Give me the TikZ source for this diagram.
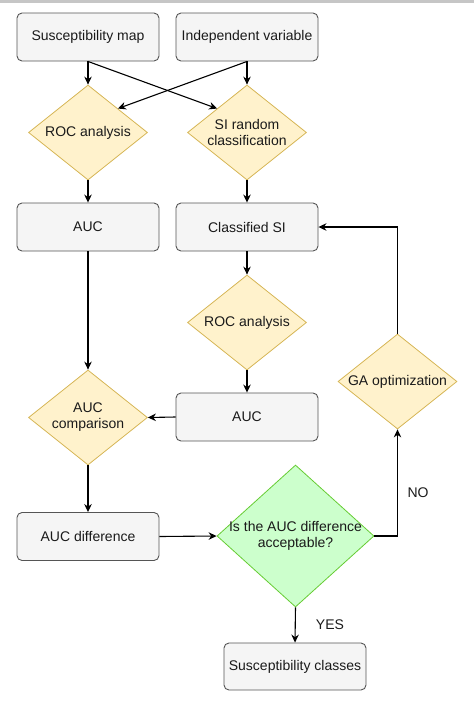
\documentclass[tikz,border=0pt]{standalone}
\usepackage{fontspec}
\setmainfont{Liberation Sans}
\usetikzlibrary{shapes.geometric,arrows.meta,calc}
\definecolor{boxfill}{HTML}{F5F5F5}
\definecolor{boxdraw}{HTML}{555555}
\definecolor{yfill}{HTML}{FFF2CC}
\definecolor{ydraw}{HTML}{D6B656}
\definecolor{gfill}{HTML}{CCFFCC}
\definecolor{gdraw}{HTML}{66CC33}
\definecolor{txt}{HTML}{1A1A1A}
\begin{document}
\begin{tikzpicture}[x=1pt,y=-1pt,
  every node/.style={font=\fontsize{14}{16}\selectfont, text=txt},
  stepbox/.style={draw=boxdraw, fill=boxfill, rounded corners=5pt, line width=0.9pt,
    minimum width=142pt, minimum height=48pt, inner sep=0pt},
  ydia/.style={diamond, draw=ydraw, fill=yfill, line width=0.8pt, inner sep=0pt,
    minimum width=119pt, minimum height=95pt},
  gdia/.style={diamond, draw=gdraw, fill=gfill, line width=0.8pt, inner sep=0pt,
    minimum width=157pt, minimum height=142pt},
  arr/.style={-{Stealth[length=8pt,width=7.5pt]}, line width=1.1pt, black},
  lbl/.style={font=\fontsize{14}{16}\selectfont}]
\useasboundingbox (0,0) rectangle (474,710);
\fill[gray!45] (0,0) rectangle (474,2.5);

\node[stepbox] (sm) at (88,37) {Susceptibility map};
\node[stepbox] (iv) at (247,37) {Independent variable};
\node[ydia, label={[lbl]center:ROC analysis}] (roc1) at (88,132.5) {};
\node[ydia, label={[lbl,align=center]center:SI random\\classification}] (sirc) at (247,132.5) {};
\node[stepbox] (auc1) at (88,227) {AUC};
\node[stepbox] (csi) at (247,227) {Classified SI};
\node[ydia, label={[lbl]center:ROC analysis}] (roc2) at (247,322.5) {};
\node[stepbox] (auc2) at (247,417) {AUC};
\node[ydia, label={[lbl,align=center]center:AUC\\comparison}] (cmp) at (88,417.5) {};
\node[ydia, label={[lbl]center:GA optimization}] (ga) at (397.5,381.5) {};
\node[stepbox] (diff) at (88,536.5) {AUC difference};
\node[gdia, label={[lbl,align=center]center:Is the AUC difference\\acceptable?}] (acc) at (295.5,536) {};
\node[stepbox, minimum height=47pt] (cls) at (295,666.5) {Susceptibility classes};

\draw[arr] (sm.south) -- (roc1.north);
\draw[arr] (sm.south) -- ($(sirc.north)!0.5!(sirc.west)$);
\draw[arr] (iv.south) -- ($(roc1.north)!0.5!(roc1.east)$);
\draw[arr] (iv.south) -- (sirc.north);
\draw[arr] (roc1.south) -- (auc1.north);
\draw[arr] (sirc.south) -- (csi.north);
\draw[arr] (csi.south) -- (roc2.north);
\draw[arr] (roc2.south) -- (auc2.north);
\draw[arr] (auc2.west) -- (cmp.east);
\draw[arr] (auc1.south) -- (cmp.north);
\draw[arr] (cmp.south) -- (diff.north);
\draw[arr] (diff.east) -- (acc.west);
\draw[arr] (acc.east) -| (ga.south);
\draw[arr] (ga.north) |- (csi.east);
\draw[arr] (acc.south) -- (cls.north);

\node[lbl] (no) at (418,493) {NO};
\node[lbl] (yes) at (330,625) {YES};
\end{tikzpicture}
\end{document}
